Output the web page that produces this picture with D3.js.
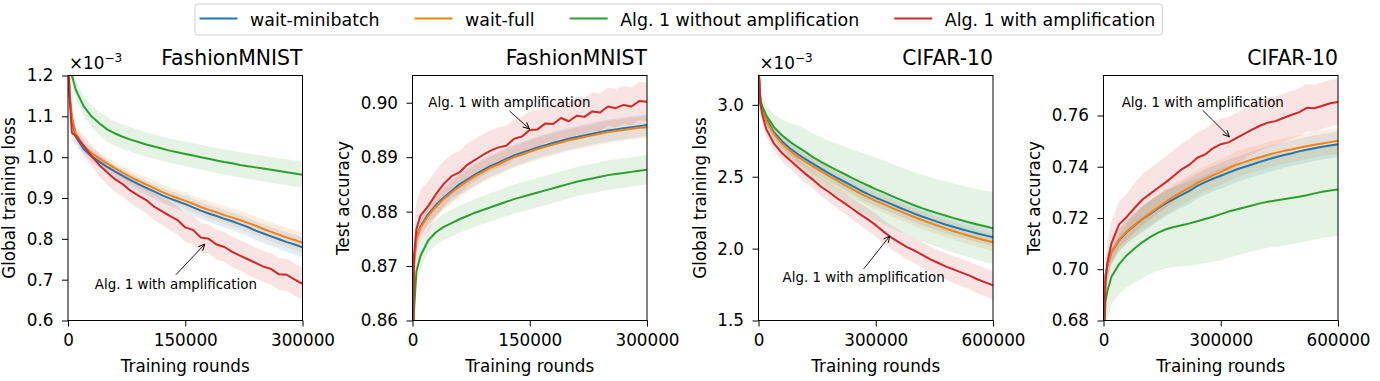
<!DOCTYPE html>
<html>
<head>
<meta charset="utf-8">
<script src="https://cdn.jsdelivr.net/npm/d3@7"></script>
<style>
  body { margin: 0; background: #fff; }
  text { font-family: "DejaVu Sans", sans-serif; fill: #000; }
</style>
</head>
<body>
<div id="plot"></div>
<script>
// legend / series
const seriesNames = ["wait-minibatch", "wait-full", "Alg. 1 without amplification", "Alg. 1 with amplification"];
const seriesColors = ["#1f77b4", "#ff7f0e", "#2ca02c", "#d62728"];
const annotationText = "Alg. 1 with amplification";

// x grids
const roundsFashion = [0, 2000, 5000, 10000, 20000, 30000, 40000, 50000, 60000, 70000, 80000, 90000, 100000,
  110000, 120000, 130000, 140000, 150000, 160000, 170000, 180000, 190000, 200000, 210000, 220000, 230000,
  240000, 250000, 260000, 270000, 280000, 290000, 300000];
const roundsCifar = [0, 5000, 10000, 20000, 40000, 60000, 80000, 100000, 120000, 140000, 160000, 180000, 200000,
  220000, 240000, 260000, 280000, 300000, 320000, 340000, 360000, 380000, 400000, 420000, 440000, 460000,
  480000, 500000, 520000, 540000, 560000, 580000, 600000];

// FashionMNIST global training loss (x1e-3)
const fmLossMinibatch = [1.25, 1.15, 1.09, 1.05, 1.020, 1.002, 0.989, 0.976, 0.965, 0.954, 0.944, 0.934, 0.925, 0.916, 0.907, 0.899, 0.892, 0.885, 0.877, 0.869, 0.862, 0.856, 0.849, 0.843, 0.836, 0.829, 0.820, 0.813, 0.806, 0.799, 0.792, 0.786, 0.779];
const fmLossFull = [1.25, 1.16, 1.10, 1.057, 1.027, 1.010, 0.997, 0.984, 0.973, 0.962, 0.952, 0.942, 0.933, 0.924, 0.915, 0.907, 0.900, 0.893, 0.886, 0.878, 0.871, 0.865, 0.858, 0.852, 0.846, 0.839, 0.832, 0.824, 0.817, 0.810, 0.803, 0.797, 0.790];
const fmLossNoAmp = [1.30, 1.25, 1.20, 1.165, 1.125, 1.100, 1.083, 1.068, 1.058, 1.050, 1.043, 1.037, 1.031, 1.026, 1.021, 1.016, 1.012, 1.008, 1.004, 1.000, 0.996, 0.992, 0.988, 0.985, 0.981, 0.978, 0.975, 0.972, 0.969, 0.966, 0.963, 0.960, 0.957];
const fmLossAmp = [1.30, 1.15, 1.06, 1.052, 1.028, 1.003, 0.981, 0.963, 0.946, 0.934, 0.918, 0.906, 0.895, 0.879, 0.868, 0.856, 0.846, 0.828, 0.822, 0.803, 0.800, 0.786, 0.780, 0.768, 0.759, 0.750, 0.741, 0.732, 0.726, 0.713, 0.712, 0.700, 0.690];

// FashionMNIST test accuracy
const fmAccMinibatch = [0.850, 0.871, 0.8752, 0.8772, 0.8795, 0.8812, 0.8826, 0.8838, 0.8850, 0.8859, 0.8868, 0.8876, 0.8884, 0.8890, 0.8897, 0.8903, 0.8908, 0.8913, 0.8918, 0.8922, 0.8926, 0.8930, 0.8934, 0.8937, 0.8940, 0.8943, 0.8946, 0.8949, 0.8951, 0.8953, 0.8955, 0.8957, 0.8959];
const fmAccFull = [0.850, 0.870, 0.8750, 0.8770, 0.8792, 0.8809, 0.8823, 0.8835, 0.8846, 0.8856, 0.8865, 0.8873, 0.8881, 0.8887, 0.8894, 0.8900, 0.8905, 0.8910, 0.8915, 0.8919, 0.8923, 0.8927, 0.8931, 0.8934, 0.8937, 0.8940, 0.8943, 0.8946, 0.8948, 0.8950, 0.8952, 0.8954, 0.8955];
const fmAccNoAmp = [0.850, 0.862, 0.8690, 0.8718, 0.8747, 0.8762, 0.8772, 0.8779, 0.8786, 0.8792, 0.8798, 0.8803, 0.8808, 0.8813, 0.8818, 0.8823, 0.8827, 0.8831, 0.8835, 0.8839, 0.8843, 0.8847, 0.8851, 0.8855, 0.8858, 0.8861, 0.8864, 0.8867, 0.8869, 0.8871, 0.8873, 0.8875, 0.8877];
const fmAccAmp = [0.850, 0.872, 0.8768, 0.8792, 0.8810, 0.8832, 0.8851, 0.8865, 0.8872, 0.8886, 0.8895, 0.8904, 0.8912, 0.8918, 0.8921, 0.8934, 0.8938, 0.8950, 0.8951, 0.8962, 0.8961, 0.8972, 0.8966, 0.8976, 0.8974, 0.8984, 0.8982, 0.8993, 0.8990, 0.8996, 0.8993, 0.9003, 0.9002];

// CIFAR-10 global training loss (x1e-3)
const cfLossMinibatch = [3.25, 3.02, 2.97, 2.90, 2.808, 2.747, 2.698, 2.658, 2.623, 2.589, 2.556, 2.524, 2.494, 2.465, 2.436, 2.406, 2.379, 2.354, 2.332, 2.309, 2.286, 2.264, 2.242, 2.222, 2.203, 2.184, 2.166, 2.150, 2.135, 2.120, 2.105, 2.092, 2.079];
const cfLossFull = [3.25, 3.01, 2.96, 2.89, 2.795, 2.732, 2.682, 2.640, 2.604, 2.570, 2.537, 2.505, 2.474, 2.444, 2.414, 2.384, 2.357, 2.332, 2.309, 2.285, 2.262, 2.240, 2.218, 2.197, 2.177, 2.158, 2.139, 2.121, 2.104, 2.088, 2.072, 2.058, 2.044];
const cfLossNoAmp = [3.25, 3.03, 2.99, 2.925, 2.843, 2.788, 2.744, 2.707, 2.673, 2.635, 2.603, 2.573, 2.546, 2.519, 2.491, 2.464, 2.439, 2.414, 2.391, 2.367, 2.344, 2.322, 2.300, 2.280, 2.262, 2.245, 2.228, 2.212, 2.197, 2.182, 2.168, 2.155, 2.142];
const cfLossAmp = [3.30, 3.00, 2.93, 2.83, 2.73, 2.665, 2.617, 2.567, 2.520, 2.478, 2.430, 2.394, 2.352, 2.316, 2.277, 2.238, 2.203, 2.163, 2.118, 2.076, 2.043, 2.010, 1.985, 1.955, 1.925, 1.900, 1.875, 1.854, 1.833, 1.812, 1.787, 1.765, 1.745];

// CIFAR-10 test accuracy
const cfAccMinibatch = [0.670, 0.6975, 0.7015, 0.7065, 0.7113, 0.7146, 0.7172, 0.7196, 0.7217, 0.7238, 0.7258, 0.7274, 0.7290, 0.7306, 0.7325, 0.7340, 0.7353, 0.7365, 0.7377, 0.7389, 0.7399, 0.7409, 0.7419, 0.7428, 0.7437, 0.7445, 0.7452, 0.7460, 0.7466, 0.7472, 0.7478, 0.7483, 0.7488];
const cfAccFull = [0.670, 0.6975, 0.7015, 0.7065, 0.7115, 0.7148, 0.7174, 0.7198, 0.7220, 0.7242, 0.7264, 0.7283, 0.7302, 0.7319, 0.7337, 0.7352, 0.7366, 0.7380, 0.7394, 0.7408, 0.7418, 0.7428, 0.7437, 0.7446, 0.7454, 0.7461, 0.7467, 0.7474, 0.7480, 0.7486, 0.7491, 0.7496, 0.7501];
const cfAccNoAmp = [0.670, 0.6875, 0.6915, 0.6970, 0.7020, 0.7055, 0.7082, 0.7106, 0.7126, 0.7143, 0.7156, 0.7165, 0.7172, 0.7179, 0.7187, 0.7196, 0.7205, 0.7215, 0.7225, 0.7233, 0.7241, 0.7249, 0.7257, 0.7263, 0.7268, 0.7273, 0.7278, 0.7283, 0.7289, 0.7296, 0.7302, 0.7307, 0.7311];
const cfAccAmp = [0.670, 0.695, 0.7025, 0.7100, 0.7175, 0.7205, 0.7240, 0.7272, 0.7295, 0.7318, 0.7340, 0.7365, 0.7390, 0.7408, 0.7435, 0.7448, 0.7472, 0.7488, 0.7495, 0.7512, 0.7528, 0.7545, 0.7560, 0.7572, 0.7578, 0.7590, 0.7602, 0.7612, 0.7630, 0.7628, 0.7638, 0.7648, 0.7653];

// half-width of the shaded bands, on a coarse grid
const fmSpreadRounds = [0, 50000, 150000, 300000];
const cfSpreadRounds = [0, 100000, 300000, 600000];
const fmLossSpread = [[0.01, 0.015, 0.02, 0.025], [0.01, 0.015, 0.02, 0.025], [0.02, 0.03, 0.03, 0.032], [0.02, 0.03, 0.035, 0.04]];
const fmAccSpread = [[0.0015, 0.002, 0.002, 0.002], [0.0015, 0.002, 0.002, 0.002], [0.002, 0.0025, 0.0027, 0.0027], [0.005, 0.004, 0.0035, 0.0035]];
const cfLossSpread = [[0.03, 0.05, 0.06, 0.06], [0.03, 0.05, 0.06, 0.06], [0.05, 0.15, 0.22, 0.25], [0.05, 0.06, 0.08, 0.1]];
const cfAccSpread = [[0.004, 0.005, 0.005, 0.005], [0.004, 0.005, 0.005, 0.005], [0.01, 0.014, 0.018, 0.018], [0.008, 0.01, 0.01, 0.009]];

// panels
const panels = [
  { title: "FashionMNIST", ylabel: "Global training loss", rounds: roundsFashion, xMax: 300000, xTicks: [0, 150000, 300000],
    yDomain: [0.6, 1.2], yTicks: [0.6, 0.7, 0.8, 0.9, 1.0, 1.1, 1.2], yFmt: ".1f", offset: true,
    series: [fmLossMinibatch, fmLossFull, fmLossNoAmp, fmLossAmp], spreadRounds: fmSpreadRounds, spread: fmLossSpread,
    ann: { text: [138000, 0.676], tail: [138000, 0.712], head: [175000, 0.787] } },
  { title: "FashionMNIST", ylabel: "Test accuracy", rounds: roundsFashion, xMax: 300000, xTicks: [0, 150000, 300000],
    yDomain: [0.86, 0.905], yTicks: [0.86, 0.87, 0.88, 0.89, 0.90], yFmt: ".2f", offset: false,
    series: [fmAccMinibatch, fmAccFull, fmAccNoAmp, fmAccAmp], spreadRounds: fmSpreadRounds, spread: fmAccSpread,
    ann: { text: [124000, 0.8993], tail: [124000, 0.8985], head: [149500, 0.8952] } },
  { title: "CIFAR-10", ylabel: "Global training loss", rounds: roundsCifar, xMax: 600000, xTicks: [0, 300000, 600000],
    yDomain: [1.5, 3.204], yTicks: [1.5, 2.0, 2.5, 3.0], yFmt: ".1f", offset: true,
    series: [cfLossMinibatch, cfLossFull, cfLossNoAmp, cfLossAmp], spreadRounds: cfSpreadRounds, spread: cfLossSpread,
    ann: { text: [269000, 1.765], tail: [269000, 1.858], head: [336000, 2.088] } },
  { title: "CIFAR-10", ylabel: "Test accuracy", rounds: roundsCifar, xMax: 600000, xTicks: [0, 300000, 600000],
    yDomain: [0.68, 0.7756], yTicks: [0.68, 0.70, 0.72, 0.74, 0.76], yFmt: ".2f", offset: false,
    series: [cfAccMinibatch, cfAccFull, cfAccNoAmp, cfAccAmp], spreadRounds: cfSpreadRounds, spread: cfAccSpread,
    ann: { text: [254000, 0.7633], tail: [254000, 0.7620], head: [322000, 0.7517] } }
];

const W = 1380, H = 381;
const panelLefts = [68, 412.5, 758.5, 1103.5];
const panelWidth = 234.5;
const plotTop = 75.5, plotBottom = 320.5;
const fontSize = 16.8;

const svg = d3.select("#plot")
  .append("svg")
  .attr("width", W)
  .attr("height", H);

panels.forEach((p, i) => {
  const left = panelLefts[i];
  const x = d3.scaleLinear().domain([0, p.xMax]).range([left, left + panelWidth]);
  const y = d3.scaleLinear().domain(p.yDomain).range([plotBottom, plotTop]);
  const g = svg.append("g");

  const clipId = "clip" + i;
  svg.append("clipPath").attr("id", clipId)
    .append("rect")
    .attr("x", left).attr("y", plotTop)
    .attr("width", panelWidth).attr("height", plotBottom - plotTop);

  const plot = g.append("g").attr("clip-path", `url(#${clipId})`);

  // shaded bands
  p.series.forEach((vals, k) => {
    const spreadAt = d3.scaleLinear().domain(p.spreadRounds).range(p.spread[k]);
    const area = d3.area()
      .x((d, j) => x(p.rounds[j]))
      .y0((d, j) => y(d - spreadAt(p.rounds[j])))
      .y1((d, j) => y(d + spreadAt(p.rounds[j])));
    plot.append("path")
      .datum(vals)
      .attr("d", area)
      .attr("fill", seriesColors[k])
      .attr("fill-opacity", 0.13);
  });

  // mean lines
  p.series.forEach((vals, k) => {
    const line = d3.line()
      .x((d, j) => x(p.rounds[j]))
      .y(d => y(d));
    plot.append("path")
      .datum(vals)
      .attr("d", line)
      .attr("fill", "none")
      .attr("stroke", seriesColors[k])
      .attr("stroke-width", 2)
      .attr("stroke-linejoin", "round");
  });

  // frame
  g.append("rect")
    .attr("x", left).attr("y", plotTop)
    .attr("width", panelWidth).attr("height", plotBottom - plotTop)
    .attr("fill", "none")
    .attr("stroke", "#000")
    .attr("stroke-width", 1);

  // axes
  const xAxis = g.append("g")
    .attr("transform", `translate(0,${plotBottom})`)
    .call(d3.axisBottom(x).tickValues(p.xTicks).tickSize(6).tickSizeOuter(0).tickPadding(7.5).tickFormat(d3.format("d")));
  const yAxis = g.append("g")
    .attr("transform", `translate(${left},0)`)
    .call(d3.axisLeft(y).tickValues(p.yTicks).tickSize(6).tickSizeOuter(0).tickPadding(8.5).tickFormat(d3.format(p.yFmt)));
  [xAxis, yAxis].forEach(a => {
    a.select(".domain").remove();
    a.attr("font-size", fontSize).attr("font-family", "DejaVu Sans");
    a.selectAll("line").attr("stroke", "#000");
    a.selectAll("text").attr("fill", "#000");
  });

  // axis labels
  g.append("text")
    .attr("x", left + panelWidth / 2)
    .attr("y", 371.5)
    .attr("text-anchor", "middle")
    .style("font-size", fontSize + "px")
    .text("Training rounds");

  let minX = left;
  yAxis.selectAll("text").each(function () {
    const b = this.getBBox();
    minX = Math.min(minX, left + b.x);
  });
  g.append("text")
    .attr("transform", `translate(${minX - 11.5},${(plotTop + plotBottom) / 2}) rotate(-90)`)
    .attr("text-anchor", "middle")
    .style("font-size", fontSize + "px")
    .text(p.ylabel);

  // title, right-aligned
  g.append("text")
    .attr("x", left + panelWidth)
    .attr("y", 65)
    .attr("text-anchor", "end")
    .style("font-size", "20.4px")
    .text(p.title);

  // scale offset text
  if (p.offset) {
    const t = g.append("text")
      .attr("x", left + 1)
      .attr("y", 68.5)
      .style("font-size", fontSize + "px");
    t.append("tspan").text("\u00d710");
    t.append("tspan").attr("dy", -7).style("font-size", "12px").text("\u22123");
  }

  // annotation with arrow
  const a = p.ann;
  g.append("text")
    .attr("x", x(a.text[0]))
    .attr("y", y(a.text[1]))
    .attr("text-anchor", "middle")
    .style("font-size", "13.4px")
    .text(annotationText);
  const x1 = x(a.tail[0]), y1 = y(a.tail[1]), x2 = x(a.head[0]), y2 = y(a.head[1]);
  g.append("line")
    .attr("x1", x1).attr("y1", y1).attr("x2", x2).attr("y2", y2)
    .attr("stroke", "#000").attr("stroke-width", 0.9);
  const ang = Math.atan2(y2 - y1, x2 - x1);
  const hl = 7, hw = 0.45;
  const head = d3.path();
  head.moveTo(x2 - hl * Math.cos(ang - hw), y2 - hl * Math.sin(ang - hw));
  head.lineTo(x2, y2);
  head.lineTo(x2 - hl * Math.cos(ang + hw), y2 - hl * Math.sin(ang + hw));
  g.append("path")
    .attr("d", head.toString())
    .attr("fill", "none")
    .attr("stroke", "#000")
    .attr("stroke-width", 1);
});

// legend
const legend = svg.append("g");
const legendBox = legend.append("rect")
  .attr("x", 195).attr("y", 4)
  .attr("height", 31)
  .attr("rx", 3)
  .attr("fill", "#fff")
  .attr("stroke", "#d0d0d0")
  .attr("stroke-width", 1);

let lx = 199.5;
seriesNames.forEach((name, k) => {
  legend.append("line")
    .attr("x1", lx).attr("x2", lx + 38)
    .attr("y1", 18.5).attr("y2", 18.5)
    .attr("stroke", seriesColors[k])
    .attr("stroke-width", 2);
  const t = legend.append("text")
    .attr("x", lx + 50.5)
    .attr("y", 26)
    .style("font-size", "17.4px")
    .text(name);
  lx = lx + 50.5 + t.node().getComputedTextLength() + 35;
});
legendBox.attr("width", lx - 35 + 7 - 195);
</script>
</body>
</html>
